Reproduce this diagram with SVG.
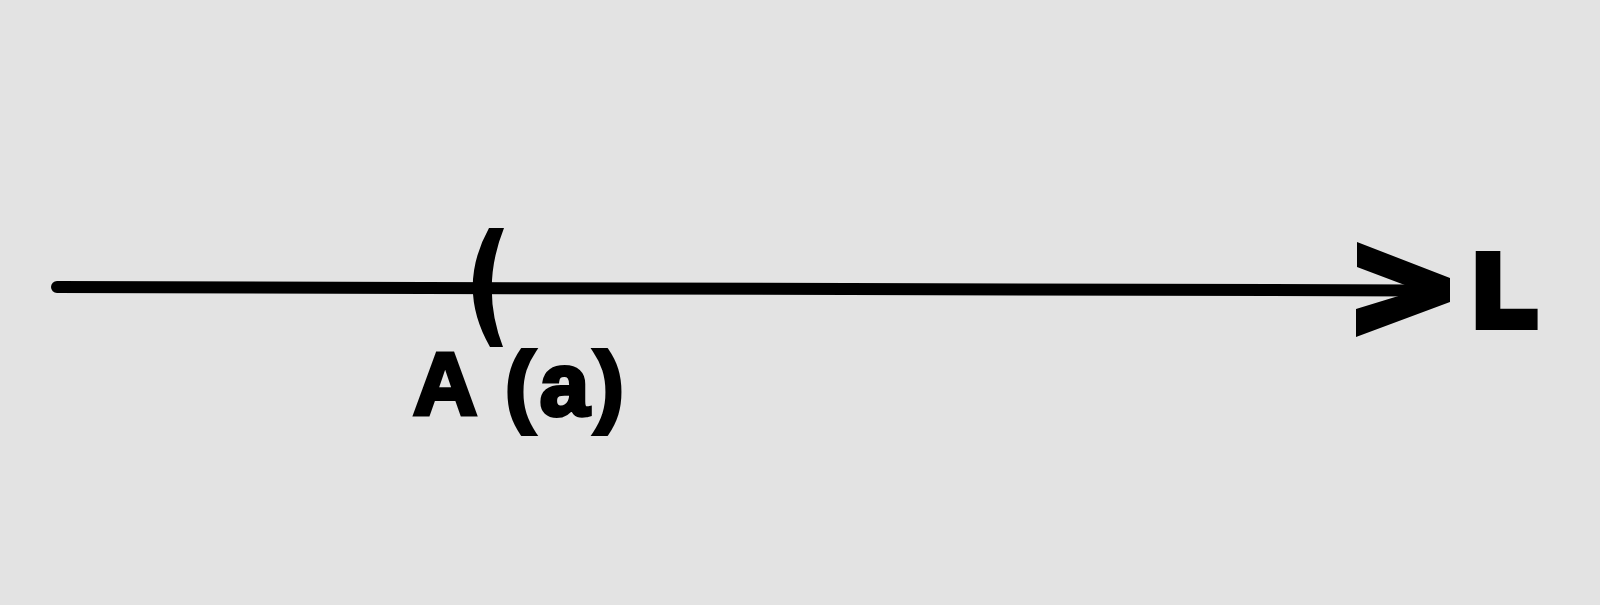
<svg xmlns="http://www.w3.org/2000/svg" width="1600" height="605" viewBox="0 0 1600 605">
<style>
.lbl{font-family:"Liberation Sans",Arial,sans-serif;font-weight:bold;fill:#000;stroke:#000;stroke-linejoin:miter}
</style>
<rect width="1600" height="605" fill="#e3e3e3"/>
<g id="connectors">
<line x1="57" y1="287" x2="1420" y2="290.5" stroke="#000" stroke-width="12" stroke-linecap="round"/>
<polygon points="1357,242 1450,278 1450,302 1356,337 1356,309 1418,290 1357,267" fill="#000"/>
</g>
<g id="point-A">
<path d="M489,228 Q456,288 490,347 L503,347 Q480,288 504,228 Z" fill="#000"/>
<text class="lbl" x="413" y="415" font-size="89" stroke-width="4">A</text>
<text class="lbl" x="505" y="415" font-size="89" stroke-width="4" letter-spacing="5">(a)</text>
</g>
<g id="label-L">
<text class="lbl" x="1474" y="325" font-size="101" stroke-width="10">L</text>
</g>
</svg>
